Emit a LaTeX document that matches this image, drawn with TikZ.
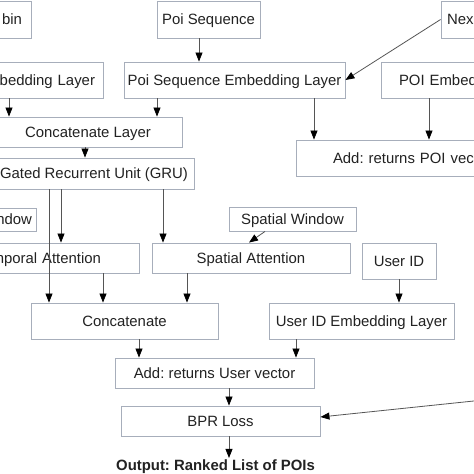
\documentclass[tikz,border=0pt]{standalone}
\usepackage{fontspec}
\setmainfont{Liberation Sans}
\usetikzlibrary{arrows.meta,calc}
\definecolor{edge}{HTML}{A7AEBB}
\definecolor{wire}{HTML}{555555}
\definecolor{ink}{HTML}{222222}
\frenchspacing

\begin{document}
\begin{tikzpicture}[x=1pt,y=-1pt,
  box/.style={draw=edge,line width=0.9pt,fill=white,text=ink,inner sep=0pt,
    font=\fontsize{14.9}{17}\selectfont,text height=10.7pt,text depth=0pt},
  cutl/.style={box,align=right},
  cutr/.style={box,align=left},
  arr/.style={wire,line width=0.8pt,-{Triangle[length=9pt,width=7pt,color=black]}}]
\fill[white] (0,0) rectangle (474,474);
\useasboundingbox (0,0) rectangle (474,474);
% input row
\node[cutl,text width=73pt,inner xsep=9pt,minimum height=37pt] (timebin) at (-14.5,19.5) {bin};
\node[box,minimum width=103pt,minimum height=37pt] (poiseq) at (208.5,19.5) {Poi Sequence};
\node[cutr,text width=77pt,inner xsep=6pt,minimum height=37pt] (next) at (485.5,19.5) {Nex};
% embeddings
\node[cutl,text width=167pt,inner xsep=8pt,minimum height=36pt] (timeemb) at (11.5,80) {bedding Layer};
\node[box,minimum width=221pt,minimum height=36pt] (poiseqemb) at (234.5,80) {Poi Sequence Embedding Layer};
\node[cutr,text width=143pt,inner xsep=18pt,minimum height=36pt] (poiemb) at (470.5,80) {POI Embed};
\node[box,minimum width=188pt,minimum height=30pt] (catlayer) at (88,132) {Concatenate Layer};
\node[cutr,text width=190pt,inner xsep=37pt,minimum height=36pt] (addpoi) at (428,158) {Add: returns POI vect};
\node[box,minimum width=200pt,minimum height=31pt] (gru) at (94,173.5) {Gated Recurrent Unit (GRU)};
% attention
\node[cutl,text width=78pt,inner xsep=4pt,minimum height=23pt] (timewin) at (-7,219.5) {ndow};
\node[box,minimum width=127pt,minimum height=24pt] (spatwin) at (292.5,219) {Spatial Window};
\node[cutl,text width=126pt,inner xsep=38pt,minimum height=30pt] (tempatt) at (38,258) {nporal Attention};
\node[box,minimum width=198pt,minimum height=30pt] (spatatt) at (251,258) {Spatial Attention};
\node[box,minimum width=74pt,minimum height=36pt] (userid) at (399,261) {User ID};
% user side and output
\node[box,minimum width=187pt,minimum height=36pt] (concat) at (124.5,321) {Concatenate};
\node[box,minimum width=185pt,minimum height=36pt] (useremb) at (361.5,321) {User ID Embedding Layer};
\node[box,minimum width=199pt,minimum height=30pt] (adduser) at (214.5,373) {Add: returns User vector};
\node[box,minimum width=199pt,minimum height=30pt] (bpr) at (220.5,421) {BPR Loss};
\node[text=ink,font=\bfseries\fontsize{14.9}{17}\selectfont,text height=10.7pt,text depth=0pt,inner sep=2pt] (out) at (215.5,465.5) {Output: Ranked List of POIs};
\coordinate (farin) at (560,392);

% connectors
\draw[arr] (poiseq.south -| 199,0) -- (poiseqemb.north -| 199,0);
\draw[arr] (next.west) -- (poiseqemb.east);
\draw[arr] (timeemb.south -| 9,0) -- (catlayer.north -| 9,0);
\draw[arr] (poiseqemb.south -| 157,0) -- (catlayer.north -| 157,0);
\draw[arr] (poiseqemb.south -| 314,0) -- (addpoi.north -| 314,0);
\draw[arr] (poiemb.south -| 429,0) -- (addpoi.north -| 429,0);
\draw[arr] (catlayer.south -| 85,0) -- (gru.north -| 85,0);
\draw[arr] (gru.south -| 49,0) -- (concat.north -| 49,0);
\draw[arr] (gru.south -| 61,0) -- (tempatt.north -| 61,0);
\draw[arr] (gru.south -| 163,0) -- (spatatt.north -| 163,0);
\draw[arr] (spatwin.south -| 265,0) -- (spatatt.north -| 249,0);
\draw[arr] (tempatt.south -| 103,0) -- (concat.north -| 103,0);
\draw[arr] (spatatt.south -| 187,0) -- (concat.north -| 187,0);
\draw[arr] (userid.south) -- (useremb.north -| userid.south);
\draw[arr] (concat.south -| 139,0) -- (adduser.north -| 139,0);
\draw[arr] (useremb.south -| 296,0) -- (adduser.north -| 296,0);
\draw[arr] (adduser.south -| 229,0) -- (bpr.north -| 229,0);
\draw[arr] (farin) -- ([yshift=4pt]bpr.east);
\draw[arr] (bpr.south -| 229,0) -- (out.north -| 229,0);
\end{tikzpicture}
\end{document}
